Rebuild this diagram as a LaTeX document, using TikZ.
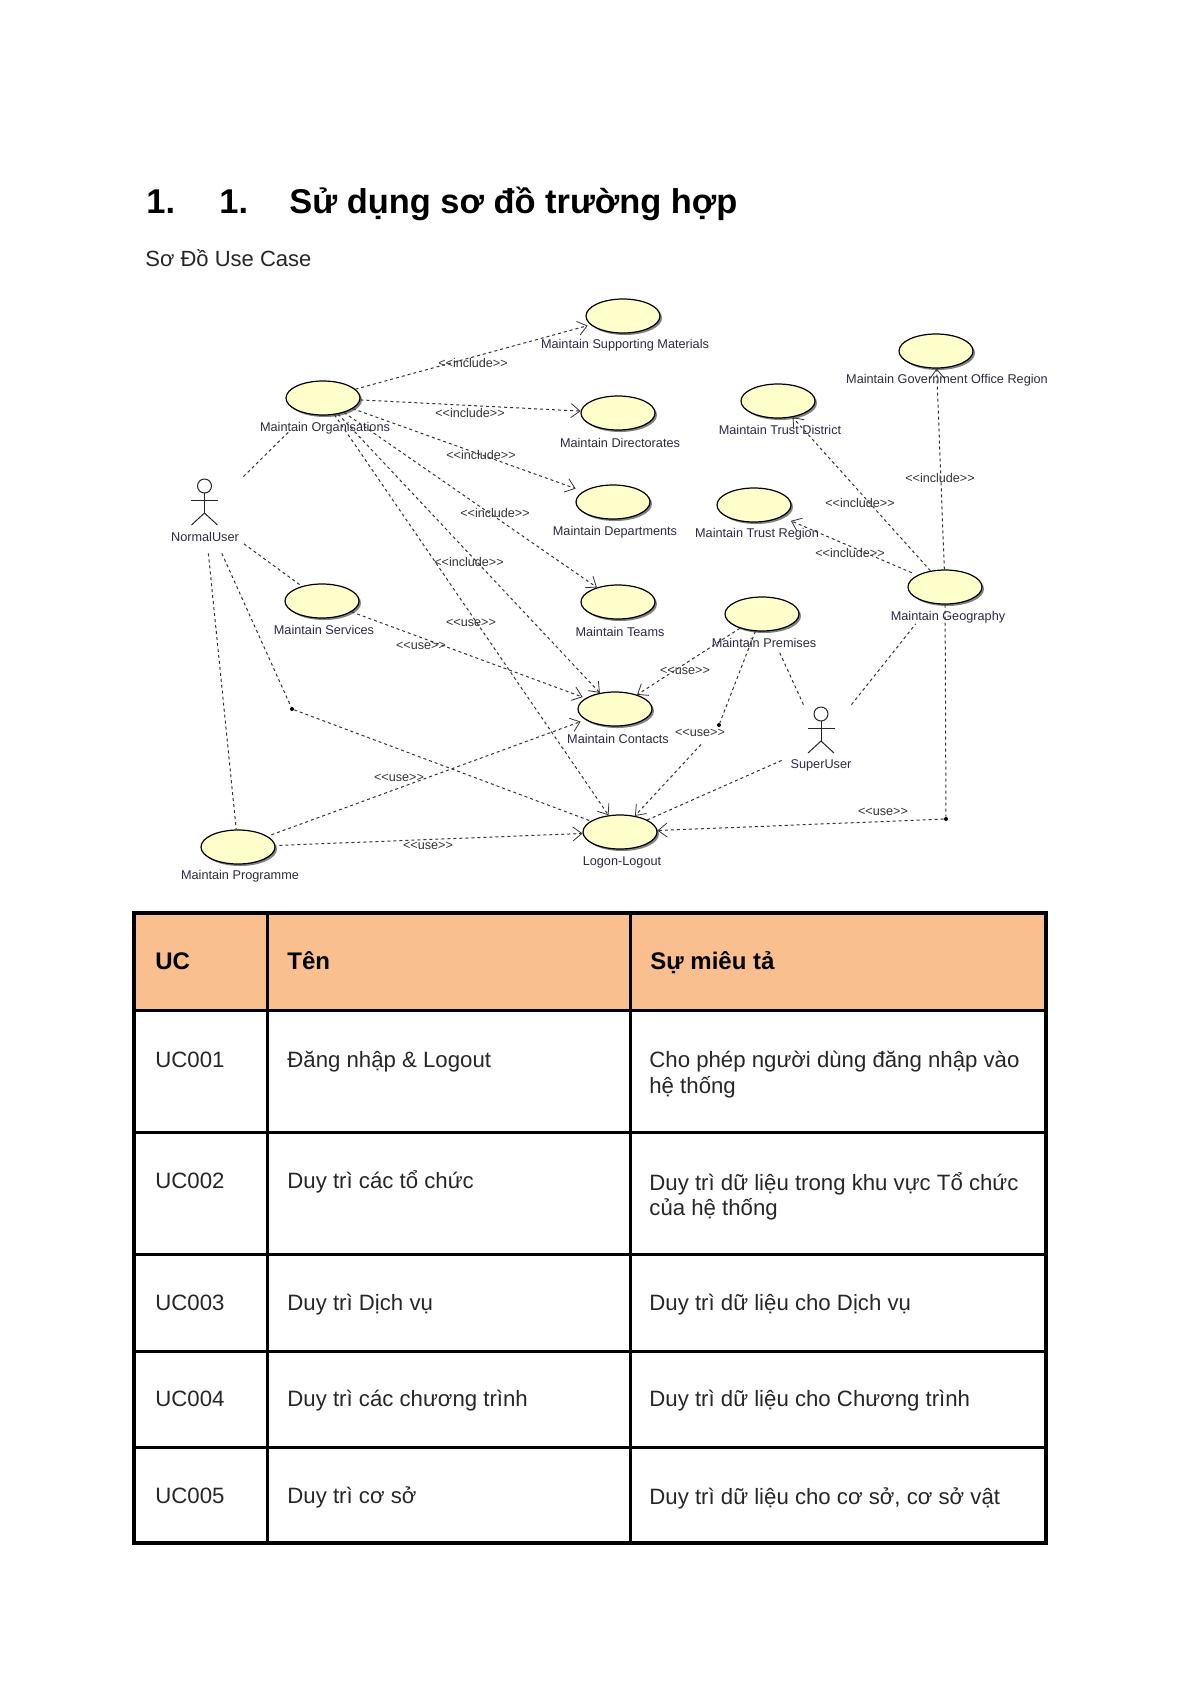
\documentclass[tikz,border=0pt]{standalone}
\usepackage{fontspec}
\setmainfont{Liberation Sans}
\usepackage{xcolor}
\usetikzlibrary{shapes,arrows.meta,calc,shadows}
\definecolor{casefill}{HTML}{FFFFCC}
\definecolor{headfill}{HTML}{FABF8F}
\definecolor{caseink}{HTML}{2A2A45}

\begin{document}
\begin{tikzpicture}[x=0.5pt, y=-0.5pt,
  ucase/.style={draw, ellipse, fill=casefill, line width=0.6pt, minimum width=37pt, minimum height=17pt, inner sep=0pt,
    drop shadow={shadow xshift=1pt, shadow yshift=-1pt, fill=black!55, opacity=0.9}},
  uclabel/.style={font=\fontsize{6.35}{7}\selectfont, text=caseink, inner sep=0pt},
  stereo/.style={font=\fontsize{6.3}{7}\selectfont, text=black!80, inner sep=0pt},
  actorbox/.style={rectangle, minimum width=39pt, minimum height=38pt, inner sep=0pt},
  stick/.style={line width=0.5pt, black!85},
  kink/.style={circle, fill=black, minimum size=2pt, inner sep=0pt},
  assoc/.style={dashed, dash pattern=on 1.5pt off 1.5pt, line width=0.5pt, black!80},
  dep/.style={assoc, -{Straight Barb[length=4.5pt, width=7pt, line width=0.4pt]}},
  cell/.style={font=\fontsize{11.1}{12.75}\selectfont, text=black!85, anchor=base west, inner sep=0pt, align=left},
  headcell/.style={cell, font=\fontsize{12}{12.75}\selectfont\bfseries, text=black},
  outerline/.style={line width=2.1pt, line cap=rect},
  innerline/.style={line width=1.5pt},
  titletext/.style={anchor=base west, inner sep=0pt, font=\fontsize{17.2}{20}\selectfont\bfseries}
]
\useasboundingbox (0,0) rectangle (1200,1698);

\node[titletext] (numa) at (146,213) {1.};
\node[titletext] (numb) at (219,213) {1.};
\node[titletext] (title) at (289,213) {Sử dụng sơ đồ trường hợp};
\node[anchor=base west, inner sep=0pt, font=\fontsize{11}{13}\selectfont, text=black!85] (subtitle) at (145,266) {Sơ Đồ Use Case};

\node[ucase] (org) at (323,398) {};
\node[ucase] (support) at (623,316) {};
\node[ucase] (direct) at (618,413) {};
\node[ucase] (depart) at (613,502) {};
\node[ucase] (teams) at (618,602) {};
\node[ucase] (services) at (322,601) {};
\node[ucase] (contacts) at (615,709) {};
\node[ucase] (logon) at (620,832) {};
\node[ucase] (programme) at (238,847) {};
\node[ucase] (premises) at (762,614) {};
\node[ucase] (region) at (754,505) {};
\node[ucase] (district) at (778,401) {};
\node[ucase] (office) at (936,351) {};
\node[ucase] (geography) at (945,587) {};

\node[actorbox] (normaluser) at (204.5,515) {};
\node[actorbox] (superuser) at (821,743) {};
\foreach \who in {normaluser,superuser} {
  \draw[stick] ($(\who.center)+(0,-29)$) circle[radius=7];
  \draw[stick] ($(\who.center)+(0,-22)$) -- ($(\who.center)+(0,-2)$);
  \draw[stick] ($(\who.center)+(-13.5,-15)$) -- ($(\who.center)+(13.5,-15)$);
  \draw[stick] ($(\who.center)+(-13,10)$) -- ($(\who.center)+(0,-2)$) -- ($(\who.center)+(13,10)$);
}

\node[kink] (userbend) at (292,709) {};
\node[kink] (premisesbend) at (719,725) {};
\node[kink] (geobend) at (946,819) {};

\draw[dep, shorten >=1.5pt] (org) -- (support);
\draw[dep] (org) -- (direct);
\draw[dep, shorten >=4pt] (org) -- (depart);
\draw[dep] (org) -- (teams);
\draw[dep] (org) -- (contacts);
\draw[dep] (org) -- (logon);
\draw[dep, shorten >=1.5pt] (services) -- (contacts);
\draw[dep, shorten <=2pt, shorten >=2.5pt] (programme) -- (contacts);
\draw[dep, shorten <=2pt] (programme) -- (logon);
\draw[dep] (premises) -- (contacts);
\draw[dep, shorten <=12pt] (premises) -- (premisesbend) -- (logon);
\draw[dep] (geography) -- (office);
\draw[dep] (geography) -- (district);
\draw[dep, shorten <=3pt, shorten >=5pt] (geography) -- (region);
\draw[dep] (geography) -- (geobend) -- (logon);
\draw[assoc, shorten >=12pt] (normaluser) -- (org);
\draw[assoc] (normaluser) -- (services);
\draw[assoc] (normaluser) -- (programme);
\draw[assoc] (normaluser) -- (userbend) -- (logon);
\draw[assoc, shorten >=11pt] (superuser) -- (premises);
\draw[assoc, shorten >=13pt] (superuser) -- (geography);
\draw[assoc] (superuser) -- (logon);

\node[uclabel] (orgtext) at (325,428) {Maintain Organisations};
\node[uclabel] (supporttext) at (625,345) {Maintain Supporting Materials};
\node[uclabel] (directtext) at (620,443) {Maintain Directorates};
\node[uclabel] (departtext) at (615,532) {Maintain Departments};
\node[uclabel] (teamstext) at (620,632) {Maintain Teams};
\node[uclabel] (servicestext) at (324,630) {Maintain Services};
\node[uclabel] (contactstext) at (618,739) {Maintain Contacts};
\node[uclabel] (logontext) at (622,862) {Logon-Logout};
\node[uclabel] (programmetext) at (240,876) {Maintain Programme};
\node[uclabel] (premisestext) at (764,643) {Maintain Premises};
\node[uclabel] (regiontext) at (757,534) {Maintain Trust Region};
\node[uclabel] (districttext) at (780,430) {Maintain Trust District};
\node[uclabel] (officetext) at (947,380) {Maintain Government Office Region};
\node[uclabel] (geographytext) at (948,617) {Maintain Geography};
\node[uclabel] (normaltext) at (205,537) {NormalUser};
\node[uclabel] (supertext) at (821,765) {SuperUser};

\node[stereo] (incsupport) at (473,363) {<{}<include>{}>};
\node[stereo] (incdirect) at (470,413) {<{}<include>{}>};
\node[stereo] (incdepart) at (481,455) {<{}<include>{}>};
\node[stereo] (incteams) at (495,513) {<{}<include>{}>};
\node[stereo] (inccontacts) at (469,562) {<{}<include>{}>};
\node[stereo] (incdistrict) at (860,503) {<{}<include>{}>};
\node[stereo] (incregion) at (850,553) {<{}<include>{}>};
\node[stereo] (incoffice) at (940,478) {<{}<include>{}>};
\node[stereo] (uselogon) at (471,623) {<{}<use>{}>};
\node[stereo] (useservices) at (421,646) {<{}<use>{}>};
\node[stereo] (useprogcon) at (399,778) {<{}<use>{}>};
\node[stereo] (useproglog) at (428,846) {<{}<use>{}>};
\node[stereo] (usepremcon) at (685,671) {<{}<use>{}>};
\node[stereo] (usepremlog) at (700,733) {<{}<use>{}>};
\node[stereo] (usegeo) at (883,812) {<{}<use>{}>};

\fill[headfill] (134,913) rectangle (1046,1010);
\foreach \rowy in {1010,1132,1254,1351,1447} {
  \draw[innerline] (134,\rowy) -- (1046,\rowy);
}
\foreach \colx in {267,630} {
  \draw[innerline] (\colx,913) -- (\colx,1543);
}
\draw[outerline] (134,913) rectangle (1046,1543);

\node[headcell] (headuc) at (155,969) {UC};
\node[headcell] (headname) at (287,969) {Tên};
\node[headcell] (headdesc) at (650,969) {Sự miêu tả};

\foreach \r/\base/\rowname/\rowdesc in {
  1/1067/{Đăng nhập \& Logout}/{Cho phép người dùng đăng nhập vào\\hệ thống},
  2/1188/{Duy trì các tổ chức}/{Duy trì dữ liệu trong khu vực Tổ chức\\của hệ thống},
  3/1310/{Duy trì Dịch vụ}/{Duy trì dữ liệu cho Dịch vụ},
  4/1406/{Duy trì các chương trình}/{Duy trì dữ liệu cho Chương trình},
  5/1503/{Duy trì cơ sở}/{Duy trì dữ liệu cho cơ sở, cơ sở vật}} {
  \node[cell] (uc\r) at (155,\base) {UC00\r};
  \node[cell] (name\r) at (287,\base) {\rowname};
  \node[cell, anchor=north west, yshift=8pt] (desc\r) at (649,\base) {\rowdesc};
}
\end{tikzpicture}
\end{document}
